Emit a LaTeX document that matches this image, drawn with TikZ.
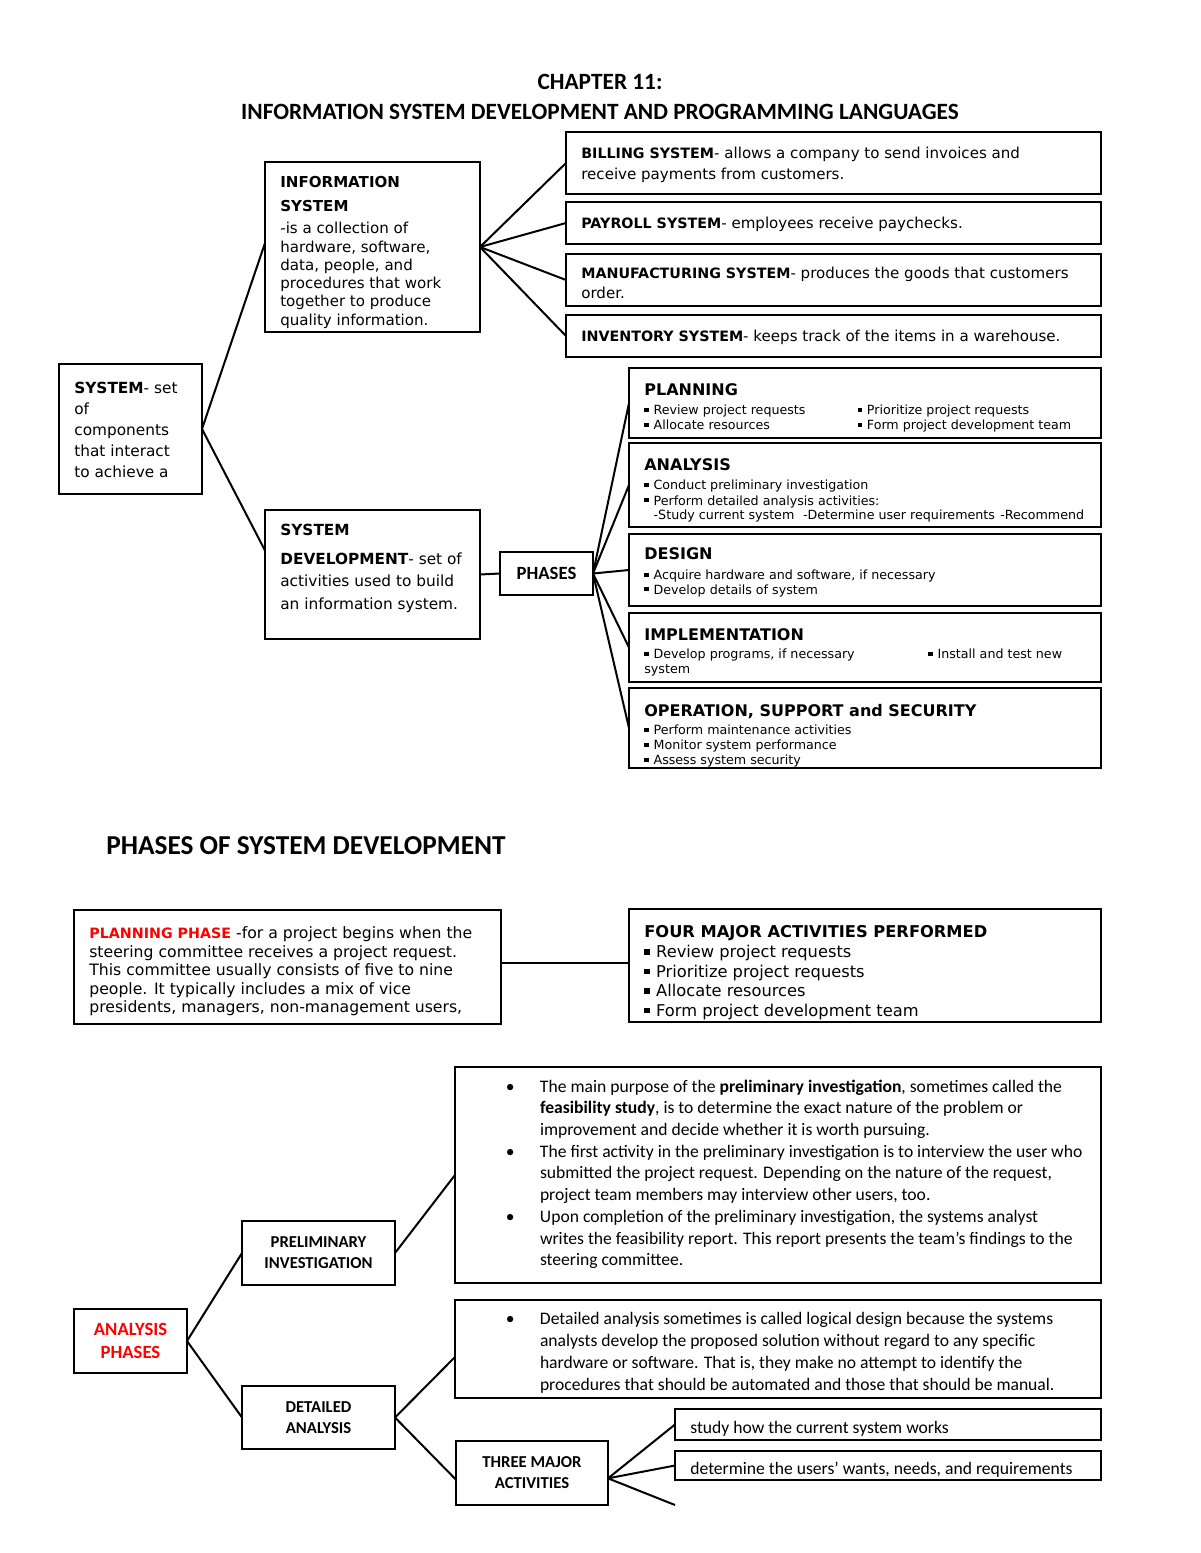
\documentclass[tikz,border=0pt]{standalone}
\usepackage{fontspec}
\setmainfont{Carlito}
\newfontfamily\wide{DejaVu Sans}
\usetikzlibrary{positioning}

\newcommand{\inbox}[4][8pt]{\begin{minipage}[t][\dimexpr #3pt*3/4\relax][t]{\dimexpr #2pt*3/4-4pt\relax}\raggedright\leftskip=9.5pt\vspace*{#1}#4\end{minipage}}
\newcommand{\sqb}{\rule[0.2em]{0.33em}{0.33em}\hspace{0.4em}}
\newcommand{\phead}[1]{{\bfseries\fontsize{12}{14}\selectfont #1}}
\newcommand{\shead}[1]{{\bfseries\fontsize{10.7}{13}\selectfont #1}}
\newcommand{\bul}{\leavevmode\llap{\textbullet\hspace{19pt}}}

\tikzset{
  box/.style={draw, line width=1.8pt, anchor=north west, inner xsep=2pt, inner ysep=0pt, outer sep=0pt},
  cbox/.style={draw, line width=1.8pt, anchor=north west, align=center, inner sep=0pt, outer sep=0pt, font=\bfseries\fontsize{12.5}{15.75}\selectfont},
  link/.style={line width=1.5pt},
}

\begin{document}
\begin{tikzpicture}[x=0.75pt,y=-0.75pt]
\useasboundingbox (0,0) rectangle (1200,1553);

%Title
\node[font=\bfseries\fontsize{17.5}{21}\selectfont] (chap) at (600,82) {CHAPTER 11:};
\node[font=\bfseries\fontsize{17.5}{21}\selectfont] (title) at (600,112) {INFORMATION SYSTEM DEVELOPMENT AND PROGRAMMING LANGUAGES};

%System
\node[box, font=\wide\fontsize{11.5}{15.75}\selectfont] (system) at (59,364) {\inbox[13.5pt]{143}{130}{\textbf{SYSTEM}- set\\of\\components\\that interact\\to achieve a}};
\node[box, font=\wide\fontsize{11.3}{13.7}\selectfont] (is) at (265,162) {\inbox[11pt]{215}{170}{\textbf{INFORMATION}\\[4.3pt]\textbf{SYSTEM}\\[2.8pt]-is a collection of\\hardware, software,\\data, people, and\\procedures that work\\together to produce\\quality information.}};
\node[box, font=\wide\fontsize{11.5}{16.75}\selectfont] (sd) at (265,510) {\inbox[10.5pt]{215}{129}{\textbf{SYSTEM}\\[5pt]\textbf{DEVELOPMENT}- set of\\activities used to build\\an information system.}};

%Kinds of information systems
\node[box, font=\wide\fontsize{11.3}{15.75}\selectfont] (billing) at (566,132) {\inbox[11.5pt]{535}{62}{\shead{BILLING SYSTEM}- allows a company to send invoices and\\receive payments from customers.}};
\node[box, font=\wide\fontsize{11.3}{15}\selectfont] (payroll) at (566,202) {\inbox[11.5pt]{535}{42}{\shead{PAYROLL SYSTEM}- employees receive paychecks.}};
\node[box, font=\wide\fontsize{11.3}{15}\selectfont] (manuf) at (566,254) {\inbox[10pt]{535}{52}{\shead{MANUFACTURING SYSTEM}- produces the goods that customers\\order.}};
\node[box, font=\wide\fontsize{11.3}{15}\selectfont] (inventory) at (566,315) {\inbox[11.5pt]{535}{42}{\shead{INVENTORY SYSTEM}- keeps track of the items in a warehouse.}};

%Phases
\node[cbox, minimum width=93*0.75pt, minimum height=43*0.75pt, font=\bfseries\fontsize{14}{16}\selectfont] (phases) at (500,552) {PHASES};
\node[box, font=\wide\fontsize{9.5}{10.8}\selectfont] (planning) at (629,368) {\inbox[12pt]{472}{70}{\phead{PLANNING}\\[3.5pt]\makebox[160pt][l]{\sqb Review project requests}\sqb Prioritize project requests\\\makebox[160pt][l]{\sqb Allocate resources}\sqb Form project development team}};
\node[box, font=\wide\fontsize{9.5}{10.8}\selectfont] (analysis) at (629,443) {\inbox[12pt]{472}{84}{\phead{ANALYSIS}\\[3.5pt]\sqb Conduct preliminary investigation\\[0.5pt]\sqb Perform detailed analysis activities:\\\hspace*{7pt}\makebox[112pt][l]{-Study current system}\makebox[148pt][l]{-Determine user requirements}-Recommend}};
\node[box, font=\wide\fontsize{9.5}{10.8}\selectfont] (design) at (629,534) {\inbox[10.5pt]{472}{72}{\phead{DESIGN}\\[4pt]\sqb Acquire hardware and software, if necessary\\\sqb Develop details of system}};
\node[box, font=\wide\fontsize{9.5}{10.8}\selectfont] (impl) at (629,613) {\inbox[12pt]{472}{69}{\phead{IMPLEMENTATION}\\[2.5pt]\makebox[213pt][l]{\sqb Develop programs, if necessary}\sqb Install and test new\\system}};
\node[box, font=\wide\fontsize{9.5}{10.8}\selectfont] (oper) at (629,688) {\inbox[12.5pt]{472}{80}{\phead{OPERATION, SUPPORT and SECURITY}\\[2.5pt]\sqb Perform maintenance activities\\[0.5pt]\sqb Monitor system performance\\[0.5pt]\sqb Assess system security}};

\draw[link] (system.east) -- ([yshift=3pt]is.west);
\draw[link] (system.east) -- ([yshift=18pt]sd.west);
\foreach \n in {billing,payroll,manuf,inventory}
\draw[link] (is.east) -- (\n.west);
\draw[link] (sd.east) -- (phases.west);
\foreach \n in {planning,analysis,design,impl,oper}
\draw[link] (phases.east) -- (\n.west);

% Phases of system development
\node[anchor=west, inner sep=0pt, font=\bfseries\fontsize{20.5}{24}\selectfont] (phasehead) at (106,846) {PHASES OF SYSTEM DEVELOPMENT};

\node[box, font=\wide\fontsize{11.75}{13.9}\selectfont] (planphase) at (74,910) {\inbox[12.5pt]{427}{114}{{\color{red}\shead{PLANNING PHASE}} -for a project begins when the\\steering committee receives a project request.\\This committee usually consists of five to nine\\people. It typically includes a mix of vice\\presidents, managers, non-management users,}};
\node[box, font=\wide\fontsize{12.2}{14.6}\selectfont] (four) at (629,909) {\inbox[12pt]{472}{113}{\textbf{FOUR MAJOR ACTIVITIES PERFORMED}\\[1pt]\sqb Review project requests\\\sqb Prioritize project requests\\\sqb Allocate resources\\\sqb Form project development team}};
\coordinate (ppjoin) at ([yshift=3pt]planphase.east);
\draw[link] (ppjoin) -- (four.west |- ppjoin);

% Analysis phases
\node[cbox, minimum width=113*0.75pt, minimum height=64*0.75pt, text=red, font=\bfseries\fontsize{14}{17.25}\selectfont] (ap) at (74,1309) {ANALYSIS\\PHASES};
\node[cbox, minimum width=153*0.75pt, minimum height=64*0.75pt] (prelim) at (242,1221) {PRELIMINARY\\INVESTIGATION};
\node[cbox, minimum width=153*0.75pt, minimum height=63*0.75pt] (detailed) at (242,1386) {DETAILED\\ANALYSIS};
\node[cbox, minimum width=152*0.75pt, minimum height=64*0.75pt] (three) at (456,1441) {THREE MAJOR\\ACTIVITIES};

\node[box, font=\fontsize{13.2}{16.3}\selectfont] (ptext) at (455,1067) {\inbox[9.5pt]{646}{216}{\leftskip=61.75pt\bul The main purpose of the \textbf{preliminary investigation}, sometimes called the\\\textbf{feasibility study}, is to determine the exact nature of the problem or\\improvement and decide whether it is worth pursuing.\\\bul The first activity in the preliminary investigation is to interview the user who\\submitted the project request. Depending on the nature of the request,\\project team members may interview other users, too.\\\bul Upon completion of the preliminary investigation, the systems analyst\\writes the feasibility report. This report presents the team’s findings to the\\steering committee.}};
\node[box, font=\fontsize{13.2}{16.3}\selectfont] (dtext) at (455,1300) {\inbox[9.5pt]{646}{98}{\leftskip=61.75pt\bul Detailed analysis sometimes is called logical design because the systems\\analysts develop the proposed solution without regard to any specific\\hardware or software. That is, they make no attempt to identify the\\procedures that should be automated and those that should be manual.}};
\node[box, font=\fontsize{13.2}{15}\selectfont] (study) at (675,1409) {\inbox[9pt]{426}{31}{study how the current system works}};
\node[box, font=\fontsize{13.2}{15}\selectfont] (determine) at (675,1451) {\inbox[8pt]{426}{29}{determine the users’ wants, needs, and requirements}};
\coordinate (loose) at (675,1505);

\draw[link] (ap.east) -- (prelim.west);
\draw[link] (ap.east) -- (detailed.west);
\draw[link] (prelim.east) -- (ptext.west);
\draw[link] (detailed.east) -- ([yshift=-6pt]dtext.west);
\draw[link] (detailed.east) -- ([yshift=-5pt]three.west);
\foreach \n in {study.west,determine.west,loose}
\draw[link] ([yshift=-4pt]three.east) -- (\n);

\end{tikzpicture}
\end{document}
